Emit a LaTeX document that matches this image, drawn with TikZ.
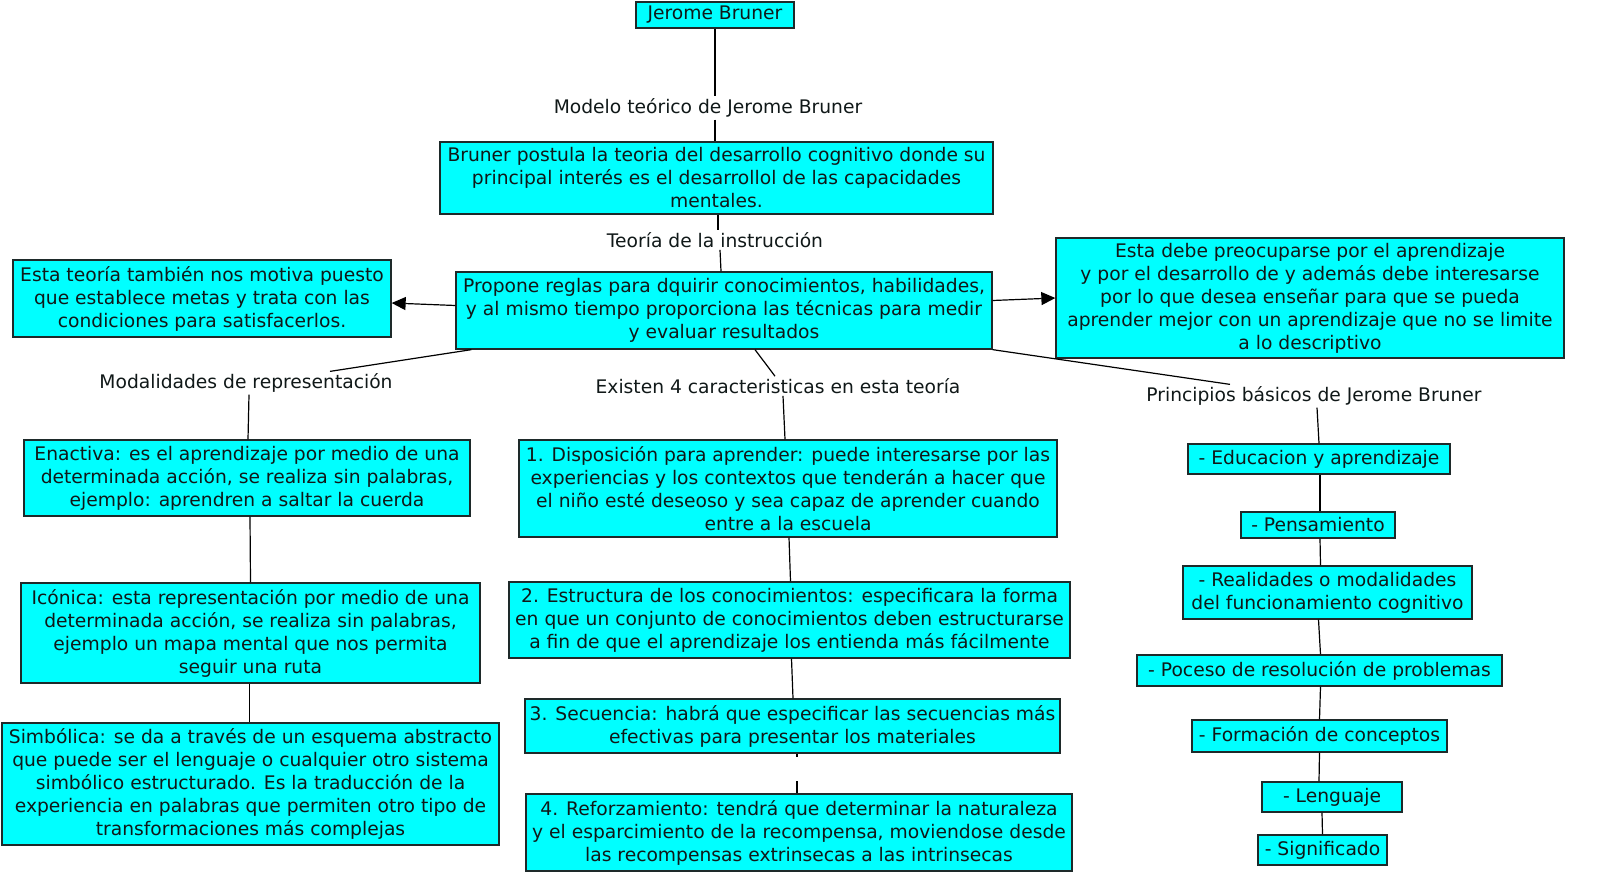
\documentclass[tikz,border=0pt]{standalone}
\usepackage{fontspec}
\setmainfont{DejaVu Sans}
\usetikzlibrary{calc,arrows.meta}
\definecolor{boxc}{HTML}{00FFFF}
\definecolor{edgec}{HTML}{1E2A2A}
\definecolor{txtc}{HTML}{101818}
\begin{document}
\begin{tikzpicture}[x=1pt,y=-1pt,
  cbox/.style={draw=edgec, line width=1.3pt, fill=boxc, align=center, inner sep=0pt, text=txtc, font=\fontsize{18.7}{23}\selectfont},
  lbl/.style={inner sep=2pt, text=txtc, font=\fontsize{18.7}{23}\selectfont},
  conn/.style={draw=black, line width=1.2pt},
  arr/.style={conn, -{Triangle[length=14pt,width=13pt]}}]
\useasboundingbox (0,0) rectangle (1600,893);
% nodes
\node[cbox, minimum width=158pt, minimum height=26pt] (jer) at (715,15) {Jerome Bruner};
\node[lbl] (modelo) at (708,108) {Modelo teórico de Jerome Bruner};
\node[cbox, minimum width=553pt, minimum height=72pt] (bru) at (716.5,178) {Bruner postula la teoria del desarrollo cognitivo donde su\\ principal interés es el desarrollol de las capacidades\\ mentales.};
\node[lbl] (teo) at (715,240) {Teoría de la instrucción};
\node[cbox, minimum width=536pt, minimum height=77pt] (prop) at (724,310.5) {Propone reglas para dquirir conocimientos, habilidades,\\ y al mismo tiempo proporciona las técnicas para medir\\ y evaluar resultados};
\node[cbox, minimum width=378pt, minimum height=77pt] (left) at (202,298.5) {Esta teoría también nos motiva puesto\\ que establece metas y trata con las\\ condiciones para satisfacerlos.};
\node[cbox, minimum width=508pt, minimum height=120pt] (right) at (1310,298) {Esta debe preocuparse por el aprendizaje\\ y por el desarrollo de y además debe interesarse\\ por lo que desea enseñar para que se pueda\\ aprender mejor con un aprendizaje que no se limite\\ a lo descriptivo};
\node[lbl] (modal) at (246,383) {Modalidades de representación};
\node[lbl] (exist) at (778,386) {Existen 4 caracteristicas en esta teoría};
\node[lbl] (princ) at (1314,396) {Principios básicos de Jerome Bruner};
% left column
\node[cbox, minimum width=446pt, minimum height=76pt] (enact) at (247,478) {Enactiva: es el aprendizaje por medio de una\\ determinada acción, se realiza sin palabras,\\ ejemplo: aprendren a saltar la cuerda};
\node[cbox, minimum width=459pt, minimum height=100pt] (icon) at (250.5,633) {Icónica: esta representación por medio de una\\ determinada acción, se realiza sin palabras,\\ ejemplo un mapa mental que nos permita\\ seguir una ruta};
\node[cbox, minimum width=497pt, minimum height=122pt] (simb) at (250.5,784) {Simbólica: se da a través de un esquema abstracto\\ que puede ser el lenguaje o cualquier otro sistema\\ simbólico estructurado. Es la traducción de la\\ experiencia en palabras que permiten otro tipo de\\ transformaciones más complejas};
% middle column
\node[cbox, minimum width=538pt, minimum height=97pt] (d1) at (788,488.5) {1. Disposición para aprender: puede interesarse por las\\ experiencias y los contextos que tenderán a hacer que\\ el niño esté deseoso y sea capaz de aprender cuando\\ entre a la escuela};
\node[cbox, minimum width=561pt, minimum height=76pt] (d2) at (789.5,620) {2. Estructura de los conocimientos: especificara la forma\\ en que un conjunto de conocimientos deben estructurarse\\ a fin de que el aprendizaje los entienda más fácilmente};
\node[cbox, minimum width=535pt, minimum height=54pt] (d3) at (792.5,726) {3. Secuencia: habrá que especificar las secuencias más\\ efectivas para presentar los materiales};
\node[inner sep=0pt, minimum width=0pt, minimum height=24pt] (gap) at (797,769) {};
\node[cbox, minimum width=546pt, minimum height=77pt] (d4) at (799,832.5) {4. Reforzamiento: tendrá que determinar la naturaleza\\ y el esparcimiento de la recompensa, moviendose desde\\ las recompensas extrinsecas a las intrinsecas};
% right column
\node[cbox, minimum width=262pt, minimum height=30pt] (r1) at (1319,459) {- Educacion y aprendizaje};
\node[cbox, minimum width=154pt, minimum height=26pt] (r2) at (1318,525) {- Pensamiento};
\node[cbox, minimum width=289pt, minimum height=53pt] (r3) at (1327.5,592.5) {- Realidades o modalidades\\ del funcionamiento cognitivo};
\node[cbox, minimum width=365pt, minimum height=31pt] (r4) at (1319.5,670.5) {- Poceso de resolución de problemas};
\node[cbox, minimum width=255pt, minimum height=32pt] (r5) at (1319.5,736) {- Formación de conceptos};
\node[cbox, minimum width=140pt, minimum height=30pt] (r6) at (1332,797) {- Lenguaje};
\node[cbox, minimum width=129pt, minimum height=30pt] (r7) at (1322.5,850) {- Significado};
% connectors
\draw[conn] (jer.south) -- (jer.south |- modelo.north);
\draw[conn] (jer.south |- modelo.south) -- (jer.south |- bru.north);
\draw[conn] ([xshift=1.5pt]bru.south) -- (teo.north -| 718,0);
\draw[conn] (teo.south -| 720,0) -- ([xshift=-3pt]prop.north);
\draw[arr] ([yshift=5pt]prop.west) -- ([yshift=-4.5pt]left.east);
\draw[arr] ([yshift=10pt]prop.east) -- (right.west);
\draw[conn] ([xshift=16pt]prop.south west) -- ([xshift=84pt]modal.north);
\draw[conn] ([xshift=31pt]prop.south) -- ([xshift=-3pt]exist.north);
\draw[conn] (prop.south east) -- ([xshift=-84pt]princ.north);
\draw[conn] ([xshift=3pt]modal.south) -- ([xshift=1pt]enact.north);
\draw[conn] ([xshift=5pt]exist.south) -- (785,0 |- d1.north);
\draw[conn] ([xshift=3pt]princ.south) -- (r1.north);
\draw[conn] ([xshift=3pt]enact.south) -- (icon.north);
\draw[conn] ([xshift=-1pt]icon.south) -- ([xshift=-1pt]simb.north);
\draw[conn] ([xshift=1pt]d1.south) -- ([xshift=1pt]d2.north);
\draw[conn] ([xshift=2pt]d2.south) -- ([xshift=0.5pt]d3.north);
\draw[conn] (d3.south -| gap) -- (gap.north);
\draw[conn] (gap.south) -- (d4.north -| gap);
\draw[conn] ([xshift=1pt]r1.south) -- ([xshift=2pt]r2.north);
\draw[conn] ([xshift=2pt]r2.south) -- ([xshift=-7pt]r3.north);
\draw[conn] ([xshift=-9pt]r3.south) -- ([xshift=1pt]r4.north);
\draw[conn] ([xshift=1pt]r4.south) -- (r5.north);
\draw[conn] (r5.south) -- ([xshift=-13pt]r6.north);
\draw[conn] ([xshift=-10pt]r6.south) -- (r7.north);
\end{tikzpicture}
\end{document}
